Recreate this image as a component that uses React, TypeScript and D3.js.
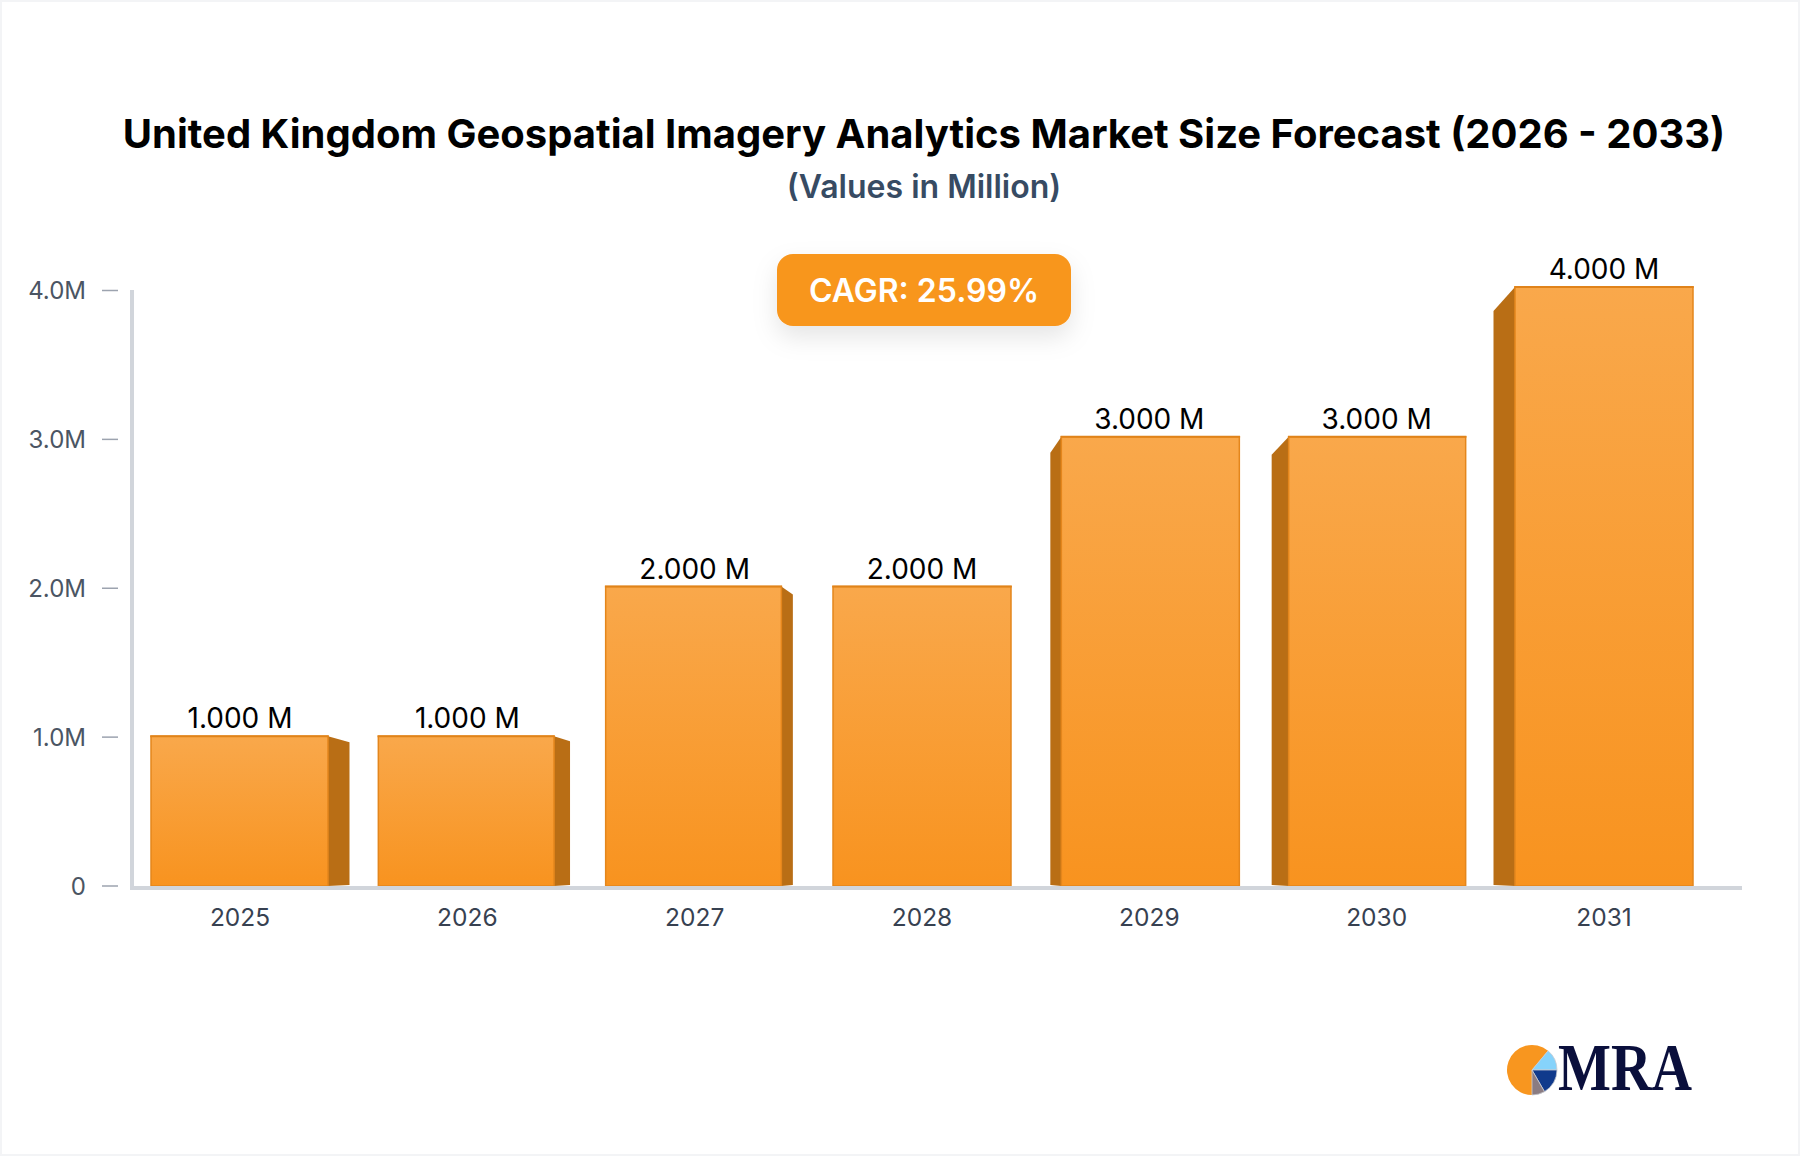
import React from "react";
import * as d3 from "d3";

const years = ["2025", "2026", "2027", "2028", "2029", "2030", "2031"];
const marketValues = [1, 1, 2, 2, 3, 3, 4];
const valueLabels = ["1.000 M", "1.000 M", "2.000 M", "2.000 M", "3.000 M", "3.000 M", "4.000 M"];
const yTicks = [0, 1, 2, 3, 4];
const yTickLabels = ["0", "1.0M", "2.0M", "3.0M", "4.0M"];
const titleText = "United Kingdom Geospatial Imagery Analytics Market Size Forecast (2026 - 2033)";
const subtitleText = "(Values in Million)";
const cagrText = "CAGR: 25.99%";
const logoShares = [220, 50, 60, 30];
const logoColors = ["#F8961F", "#86D3FB", "#103A8C", "#8B7C82"];

const FONT = "Inter, 'Noto Sans', sans-serif";
const W = 1800, H = 1156;
const BASE = 886;
const BAR_W = 178;
const sideWidth = [21.5, 16, 11.5, 0, 11, 17, 21.5];
const sideDrop = [6, 5, 8, 0, 16, 18, 24];
const leftInset = [0, 0, 0, 0, 1, 1, 0];
const rightInset = [1, 2.3, 2.3, 0, -1, 0, 0];

export default function App() {
  const x = d3.scalePoint<string>().domain(years).range([240, 1604]);
  const yBar = d3.scaleLinear().domain([0, 4]).range([BASE, 287]);
  const yAxis = d3.scaleLinear().domain([0, 4]).range([BASE, 290.5]);
  const pie = d3.pie<number>().sort(null).startAngle(Math.PI).endAngle(3 * Math.PI)(logoShares);
  const arc = d3.arc<d3.PieArcDatum<number>>().innerRadius(0).outerRadius(25);

  return (
    <svg
      width={W}
      height={H}
      viewBox={`0 0 ${W} ${H}`}
      style={{ position: "absolute", left: 0, top: 0, display: "block", background: "#fff" }}
    >
      <defs>
        <linearGradient id="barFill" x1="0" y1="0" x2="0" y2="1">
          <stop offset="0%" stopColor="#F9A84B" />
          <stop offset="100%" stopColor="#F8931F" />
        </linearGradient>
        <filter id="badgeShadow" x="-20%" y="-40%" width="140%" height="220%">
          <feDropShadow dx="0" dy="11" stdDeviation="12" floodColor="#000" floodOpacity="0.10" />
        </filter>
      </defs>

      <rect x={1} y={1} width={W - 2} height={H - 2} fill="#fff" stroke="#F3F4F6" strokeWidth={2} />

      <text x={924} y={148} textAnchor="middle" fontFamily={FONT} fontWeight={700} fontSize={40} fill="#000">
        {titleText}
      </text>
      <text x={924} y={198} textAnchor="middle" fontFamily={FONT} fontWeight={600} fontSize={32} fill="#374B63">
        {subtitleText}
      </text>

      {/* y axis */}
      <line x1={132} x2={132} y1={290} y2={888} stroke="#D1D5DB" strokeWidth={4} />
      {yTicks.map((t, i) => (
        <g key={t}>
          <line x1={102} x2={118} y1={yAxis(t)} y2={yAxis(t)} stroke="#9CA3AF" strokeWidth={1.5} />
          <text x={86} y={yAxis(t) + 8.5} textAnchor="end" fontFamily={FONT} fontSize={24} fill="#4B5563">
            {yTickLabels[i]}
          </text>
        </g>
      ))}

      {/* bars */}
      {marketValues.map((v, i) => {
        const cx = x(years[i]) as number;
        const left = cx - BAR_W / 2 + leftInset[i];
        const right = cx + BAR_W / 2 - rightInset[i];
        const top = yBar(v);
        const w = sideWidth[i];
        const d = sideDrop[i];
        const sidePath =
          i < 3
            ? `M${right},${top} L${right + w},${top + d} L${right + w},${BASE - 1} L${right},${BASE} Z`
            : i > 3
            ? `M${left},${top} L${left - w},${top + d} L${left - w},${BASE - 1} L${left},${BASE} Z`
            : "";
        return (
          <g key={years[i]}>
            {sidePath && <path d={sidePath} fill="#B96E15" />}
            <rect x={left} y={top} width={right - left} height={BASE - top} fill="url(#barFill)" stroke="#E4861C" strokeWidth={1.5} />
            <line x1={left - 0.75} x2={right + 0.75} y1={top} y2={top} stroke="#E0831A" strokeWidth={2} />
            <text x={cx} y={top - 8} textAnchor="middle" fontFamily={FONT} fontSize={28} fill="#000">
              {valueLabels[i]}
            </text>
            <text x={cx} y={926} textAnchor="middle" fontFamily={FONT} fontSize={24.5} fill="#374151">
              {years[i]}
            </text>
          </g>
        );
      })}

      {/* x axis */}
      <line x1={130} x2={1742} y1={888} y2={888} stroke="#D1D5DB" strokeWidth={4} />

      {/* CAGR badge */}
      <rect x={777} y={254} width={294} height={72} rx={16} fill="#F8961F" filter="url(#badgeShadow)" />
      <text x={924} y={302} textAnchor="middle" fontFamily={FONT} fontWeight={600} fontSize={32} fill="#fff">
        {cagrText}
      </text>

      {/* logo */}
      <g transform="translate(1532,1070)">
        {pie.map((s, i) => (
          <path key={i} d={arc(s) as string} fill={logoColors[i]} stroke={i === 0 ? "none" : "#C9CCD2"} strokeWidth={0.8} />
        ))}
      </g>
      <text
        x={1558}
        y={1090}
        fontFamily="'Liberation Serif', serif"
        fontWeight={700}
        fontSize={68}
        textLength={134}
        lengthAdjust="spacingAndGlyphs"
        fill="#0A0F3C"
      >
        MRA
      </text>
    </svg>
  );
}
